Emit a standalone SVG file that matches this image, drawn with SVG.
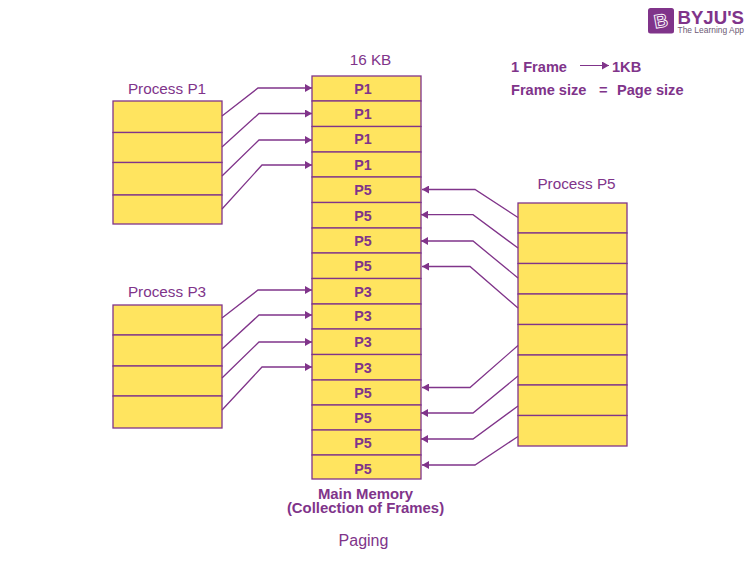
<svg xmlns="http://www.w3.org/2000/svg" width="750" height="577" viewBox="0 0 750 577">
<style>
.cell{fill:#ffe45f;stroke:#80348a;stroke-width:1.3}
.lbl{font-family:"Liberation Sans",Arial,sans-serif;font-size:15.300px;fill:#80348a}
.cellt{font-family:"Liberation Sans",Arial,sans-serif;font-size:14.300px;font-weight:bold;fill:#80348a;text-anchor:middle}
.cap{font-family:"Liberation Sans",Arial,sans-serif;font-size:14.900px;font-weight:bold;fill:#80348a;text-anchor:middle}
.b{font-family:"Liberation Sans",Arial,sans-serif;font-size:14.600px;font-weight:bold;fill:#80348a}
.con{fill:none;stroke:#80348a;stroke-width:1.3;marker-end:url(#ah)}
</style>
<defs>
<marker id="ah" markerUnits="userSpaceOnUse" markerWidth="8" markerHeight="8" refX="7" refY="4" orient="auto"><path d="M0,0 L7,4 L0,8 Z" fill="#80348a"/></marker>
</defs>
<rect width="750" height="577" fill="#fff"/>
<g id="logo">
<rect x="648" y="8" width="26" height="25.500" rx="2.500" fill="#80348a"/>
<text x="661" y="27.500" transform="rotate(-10 661 21)" text-anchor="middle" font-family="'Liberation Sans',Arial,sans-serif" font-size="19" font-weight="bold" fill="none" stroke="#fff" stroke-width="0.900">B</text>
<text x="677.500" y="24" font-family="'Liberation Sans',Arial,sans-serif" font-size="19" font-weight="bold" fill="#80348a" textLength="66.500" lengthAdjust="spacingAndGlyphs">BYJU'S</text>
<text x="677.500" y="33" font-family="'Liberation Sans',Arial,sans-serif" font-size="8.500" fill="#6d5a75" textLength="66.500" lengthAdjust="spacingAndGlyphs">The Learning App</text>
</g>
<g id="legend">
<text class="b" x="511" y="71.500">1 Frame</text>
<path d="M580 65.500H609" fill="none" stroke="#80348a" stroke-width="1" marker-end="url(#ah)"/>
<text class="b" x="612" y="71.500">1KB</text>
<text class="b" x="511" y="95">Frame size</text>
<text class="b" x="599" y="95">=</text>
<text class="b" x="617" y="95">Page size</text>
</g>
<g id="main-memory">
<text class="lbl" x="370.500" y="65" text-anchor="middle">16 KB</text>
<rect class="cell" x="312" y="76" width="109" height="25"/><text class="cellt" x="363" y="93.500">P1</text>
<rect class="cell" x="312" y="101" width="109" height="25.500"/><text class="cellt" x="363" y="119">P1</text>
<rect class="cell" x="312" y="126.500" width="109" height="25.500"/><text class="cellt" x="363" y="144">P1</text>
<rect class="cell" x="312" y="152" width="109" height="25"/><text class="cellt" x="363" y="169.500">P1</text>
<rect class="cell" x="312" y="177" width="109" height="25.500"/><text class="cellt" x="363" y="195">P5</text>
<rect class="cell" x="312" y="202.500" width="109" height="25.500"/><text class="cellt" x="363" y="220.500">P5</text>
<rect class="cell" x="312" y="228" width="109" height="25"/><text class="cellt" x="363" y="245.500">P5</text>
<rect class="cell" x="312" y="253" width="109" height="25.500"/><text class="cellt" x="363" y="271">P5</text>
<rect class="cell" x="312" y="278.500" width="109" height="25.500"/><text class="cellt" x="363" y="296.500">P3</text>
<rect class="cell" x="312" y="304" width="109" height="25"/><text class="cellt" x="363" y="321">P3</text>
<rect class="cell" x="312" y="329" width="109" height="25.500"/><text class="cellt" x="363" y="347">P3</text>
<rect class="cell" x="312" y="354.500" width="109" height="25.500"/><text class="cellt" x="363" y="372.500">P3</text>
<rect class="cell" x="312" y="380" width="109" height="25"/><text class="cellt" x="363" y="398">P5</text>
<rect class="cell" x="312" y="405" width="109" height="25"/><text class="cellt" x="363" y="423">P5</text>
<rect class="cell" x="312" y="430" width="109" height="25"/><text class="cellt" x="363" y="448">P5</text>
<rect class="cell" x="312" y="455" width="109" height="24"/><text class="cellt" x="363" y="474">P5</text>
<text class="cap" x="365.500" y="499">Main Memory</text>
<text class="cap" x="365.500" y="513">(Collection of Frames)</text>
</g>
<g id="process-p1">
<text class="lbl" x="167" y="94" text-anchor="middle">Process P1</text>
<rect class="cell" x="113" y="101" width="109" height="31.500"/>
<rect class="cell" x="113" y="132.500" width="109" height="30"/>
<rect class="cell" x="113" y="162.500" width="109" height="32.500"/>
<rect class="cell" x="113" y="195" width="109" height="29"/>
</g>
<g id="process-p3">
<text class="lbl" x="167" y="296.500" text-anchor="middle">Process P3</text>
<rect class="cell" x="113" y="305" width="109" height="30"/>
<rect class="cell" x="113" y="335" width="109" height="31"/>
<rect class="cell" x="113" y="366" width="109" height="30"/>
<rect class="cell" x="113" y="396" width="109" height="32"/>
</g>
<g id="process-p5">
<text class="lbl" x="576.500" y="189" text-anchor="middle">Process P5</text>
<rect class="cell" x="518" y="203" width="109" height="30"/>
<rect class="cell" x="518" y="233" width="109" height="30.500"/>
<rect class="cell" x="518" y="263.500" width="109" height="30.500"/>
<rect class="cell" x="518" y="294" width="109" height="30.500"/>
<rect class="cell" x="518" y="324.500" width="109" height="30.500"/>
<rect class="cell" x="518" y="355" width="109" height="30"/>
<rect class="cell" x="518" y="385" width="109" height="30.500"/>
<rect class="cell" x="518" y="415.500" width="109" height="30.500"/>
</g>
<g id="connectors">
<path class="con" d="M222 116L258 88H312"/>
<path class="con" d="M222 147L259 113.500H312"/>
<path class="con" d="M222 176L259 140H312"/>
<path class="con" d="M222 209L262 165H312"/>
<path class="con" d="M222 318L258 290H312"/>
<path class="con" d="M222 349L259 315H312"/>
<path class="con" d="M222 378L259 342H312"/>
<path class="con" d="M222 410L262 367H312"/>
<path class="con" d="M518 217.500L475 189.500H422"/>
<path class="con" d="M518 248L473 214.700H421"/>
<path class="con" d="M518 278L473 241H421"/>
<path class="con" d="M518 308L470 266.500H422"/>
<path class="con" d="M518 345.500L470 387.500H422"/>
<path class="con" d="M518 376L473 413H421"/>
<path class="con" d="M518 406L473 439H421"/>
<path class="con" d="M518 436.500L475 465H422"/>
</g>
<text class="lbl" x="363.500" y="546" text-anchor="middle" style="font-size:16px">Paging</text>
</svg>
